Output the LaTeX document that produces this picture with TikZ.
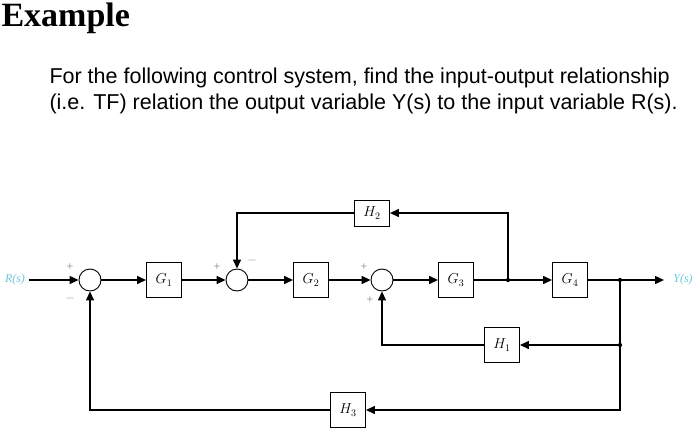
\documentclass[tikz,border=0pt]{standalone}
\usepackage{fontspec}
\newfontfamily\arialf{Liberation Sans}
\newfontfamily\timesf{Liberation Serif}
\usetikzlibrary{arrows.meta}
\definecolor{sig}{RGB}{110,200,220}
\begin{document}
\begin{tikzpicture}[x=1pt,y=-1pt,
  blk/.style={draw,line width=0.9pt,minimum width=35pt,minimum height=35pt,inner sep=0pt,font=\fontsize{14}{14}\selectfont},
  sum/.style={draw,circle,line width=0.9pt,minimum size=22pt,inner sep=0pt},
  w/.style={line width=1.4pt},
  a/.style={w,-{Triangle[length=9pt,width=8pt]}},
  sg/.style={font=\timesf\fontsize{12}{12}\selectfont,text=gray},
  io/.style={text=sig,font=\timesf\itshape\fontsize{12}{12}\selectfont},
  dot/.style={circle,fill,inner sep=1.5pt}]
\useasboundingbox (0,0) rectangle (700,436);
\node[anchor=west,font=\timesf\bfseries\fontsize{34}{34}\selectfont] (title) at (-2,18) {Example};
\node[anchor=west,font=\arialf\fontsize{21.5}{21.5}\selectfont] (l1) at (46,78) {For the following control system, find the input-output relationship};
\node[anchor=west,font=\arialf\fontsize{21.5}{21.5}\selectfont] (l2) at (46,104) {(i.e. TF) relation the output variable Y(s) to the input variable R(s).};
\node[io] (R) at (15,280) {R(s)};
\node[io] (Y) at (683,280) {Y(s)};
\node[sum] (s1) at (90,280) {};
\node[blk] (G1) at (164,280) {$G_1$};
\node[sum] (s2) at (237,280) {};
\node[blk] (G2) at (311,280) {$G_2$};
\node[sum] (s3) at (382,280) {};
\node[blk] (G3) at (456,280) {$G_3$};
\node[blk] (G4) at (570,280) {$G_4$};
\node[blk,minimum height=26pt] (H2) at (372,213) {$H_2$};
\node[blk] (H1) at (502,345) {$H_1$};
\node[blk] (H3) at (348,410) {$H_3$};
\node[dot] (j1) at (508,280) {};
\node[dot] (j2) at (620,280) {};
\node[dot] (j3) at (620,345) {};
\coordinate (yend) at (664,280);
\draw[a] (R) -- (s1);
\draw[a] (s1) -- (G1);
\draw[a] (G1) -- (s2);
\draw[a] (s2) -- (G2);
\draw[a] (G2) -- (s3);
\draw[a] (s3) -- (G3);
\draw[w] (G3) -- (j1);
\draw[a] (j1) -- (G4);
\draw[w] (G4) -- (j2);
\draw[a] (j2) -- (yend);
\draw[a] (j1) |- (H2);
\draw[a] (H2) -| (s2);
\draw[w] (j2) -- (j3);
\draw[a] (j3) -- (H1);
\draw[a] (H1) -| (s3);
\draw[a] (j3) |- (H3);
\draw[a] (H3) -| (s1);
\node[sg] (p1) at (70,267) {+};
\node[sg] (m1) at (70,298) {$-$};
\node[sg] (p2) at (217,267) {+};
\node[sg] (m2) at (252,260) {$-$};
\node[sg] (p3) at (364,267) {+};
\node[sg] (p4) at (370,300) {+};
\end{tikzpicture}
\end{document}
